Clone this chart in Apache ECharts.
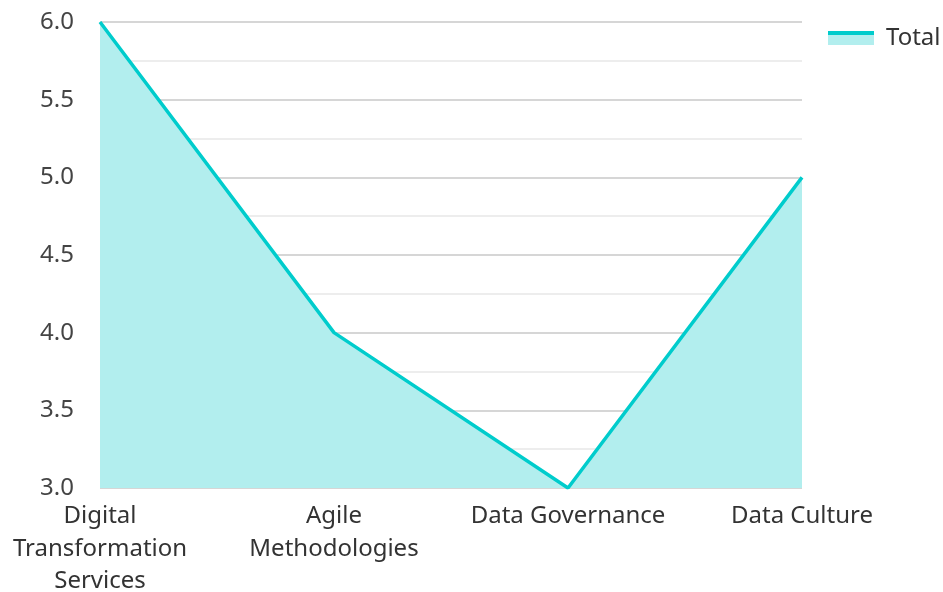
<!DOCTYPE html>
<html>
<head>
<meta charset="utf-8">
<script src="https://cdn.jsdelivr.net/npm/echarts@6/dist/echarts.min.js"></script>
<style>
  html, body { margin: 0; padding: 0; background: #fff; }
  #chart { width: 943px; height: 592px; }
</style>
</head>
<body>
<div id="chart"></div>
<script>
const categories = ["Digital\nTransformation\nServices", "Agile\nMethodologies", "Data Governance", "Data Culture"];
const totalValues = [6, 4, 3, 5];
const seriesName = "Total";

const lineColor = "#00cccc";
const areaColor = "#b2eeee";

const myChart = echarts.init(document.getElementById("chart"));

const options = {
  textStyle: { fontFamily: "Noto Sans" },
  legend: {
    data: [seriesName],
    left: 823,
    top: 21,
    itemWidth: 46,
    itemHeight: 14,
    itemGap: 12,
    icon: "rect",
    itemStyle: {
      color: new echarts.graphic.LinearGradient(0, 0, 0, 1, [
        { offset: 0, color: lineColor },
        { offset: 0.25, color: lineColor },
        { offset: 0.25, color: areaColor },
        { offset: 1, color: areaColor },
      ]),
    },
    textStyle: {
      fontSize: 24,
      color: "#333",
      fontFamily: "Noto Sans",
      padding: [0, 0, 18, 7],
    },
  },
  grid: {
    left: 100,
    right: 141,
    top: 22,
    bottom: 104,
    containLabel: false,
    outerBoundsMode: "none",
  },
  xAxis: {
    type: "category",
    boundaryGap: false,
    data: categories,
    axisLine: { show: false },
    axisTick: { show: false },
    axisLabel: {
      color: "#333",
      fontSize: 24,
      lineHeight: 32.5,
      margin: 12,
      interval: 0,
      fontFamily: "Noto Sans",
    },
  },
  yAxis: {
    type: "value",
    min: 3,
    max: 6,
    interval: 0.5,
    axisLine: { show: false },
    axisTick: { show: false },
    axisLabel: {
      color: "#444",
      fontSize: 24,
      margin: 26,
      formatter: (v) => v.toFixed(1),
      fontFamily: "Noto Sans",
    },
    splitLine: { lineStyle: { color: "#c8c8c8", width: 1.5 } },
    minorTick: { show: false, splitNumber: 2 },
    minorSplitLine: { show: true, lineStyle: { color: "#e8e8e8", width: 1.5 } },
  },
  series: [
    {
      name: seriesName,
      type: "line",
      data: totalValues,
      symbol: "none",
      lineStyle: { color: lineColor, width: 3.5 },
      itemStyle: { color: lineColor },
      areaStyle: { color: areaColor, opacity: 1 },
      z: 3,
    },
  ],
};

myChart.setOption(options);
</script>
</body>
</html>
